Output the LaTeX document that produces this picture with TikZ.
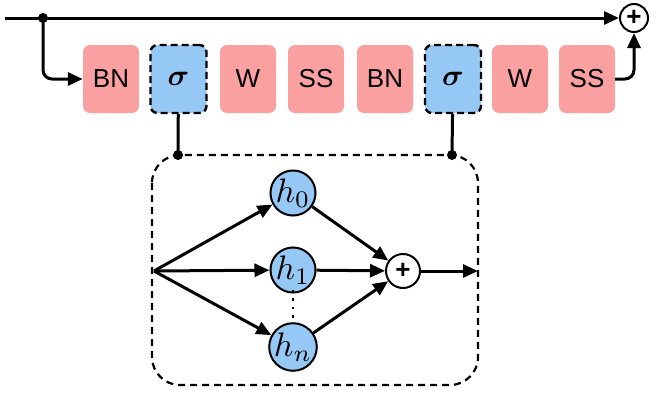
\documentclass[tikz,border=0pt]{standalone}
\usepackage{fix-cm}
\usepackage{graphicx}
\usepackage{fontspec}
\setmainfont{Liberation Sans}
\usetikzlibrary{arrows.meta}
\begin{document}
\begin{tikzpicture}[x=1pt,y=-1pt,
  box/.style={rounded corners=7pt,minimum width=56pt,minimum height=68pt,inner sep=0pt,font=\fontsize{26}{28}\selectfont},
  red/.style={box,fill={rgb,255:red,250;green,160;blue,160}},
  sig/.style={box,fill={rgb,255:red,150;green,200;blue,245},draw,dash pattern=on 7pt off 4pt,line width=2.4pt},
  hc/.style={circle,draw,line width=2pt,fill={rgb,255:red,150;green,200;blue,245},minimum size=44pt,inner sep=0pt},
  pc/.style={circle,draw,line width=2pt,fill=white,inner sep=0pt,font=\bfseries\fontsize{26}{26}\selectfont},
  ar/.style={line width=3pt,-{Triangle[length=15pt,width=13pt]}},
  ln/.style={line width=3pt},
  dot/.style={circle,fill,inner sep=0pt,minimum size=10pt}]
\newcommand{\hlab}[1]{\scalebox{3.4}{$h_{#1}$}}
\newcommand{\sglab}{\scalebox{1.15}{\mathversion{bold}$\sigma$}}
\useasboundingbox (0,0) rectangle (662,405);
\node[red] (b1) at (111,79) {BN};
\node[sig] (s1) at (178.5,79) {\sglab};
\node[red] (w1) at (248,79) {W};
\node[red] (ss1) at (316,79) {SS};
\node[red] (b2) at (385,79) {BN};
\node[sig] (s2) at (453,79) {\sglab};
\node[red] (w2) at (520,79) {W};
\node[red] (ss2) at (587,79) {SS};
\node[pc,minimum size=28pt] (top) at (634,18) {+};
\coordinate (in) at (5,18);
\node[dot] (d0) at (43,18) {};
\draw[ar] (in) -- (top);
\draw[ar,rounded corners=9pt] (d0.center) |- (b1);
\draw[ar,rounded corners=9pt] (ss2.east) -| (top);
\node[dot] (d1) at (178,155) {};
\node[dot] (d2) at (452,155) {};
\draw[ln] (s1) -- (d1.center);
\draw[ln] (s2) -- (d2.center);
\draw[dash pattern=on 7pt off 5pt,line width=2.2pt,rounded corners=28pt] (152,155) rectangle (478,385);
\coordinate (src) at (154,271);
\coordinate (out) at (478,271);
\node[hc] (h0) at (293,193) {\hlab{0}};
\node[hc] (h1) at (293,270) {\hlab{1}};
\node[hc] (hn) at (293,347) {\hlab{n}};
\node[pc,minimum size=34pt] (p) at (403,271) {+};
\draw[ar] (src) -- (h0);
\draw[ar] (src) -- (h1);
\draw[ar] (src) -- (hn);
\draw[ar] (h0) -- (p);
\draw[ar] (h1) -- (p);
\draw[ar] (hn) -- (p);
\draw[ar] (p) -- (out);
\draw[line width=2.5pt,dash pattern=on 2.5pt off 6pt] ([yshift=4pt]h1.south) -- (hn.north);
\end{tikzpicture}
\end{document}
